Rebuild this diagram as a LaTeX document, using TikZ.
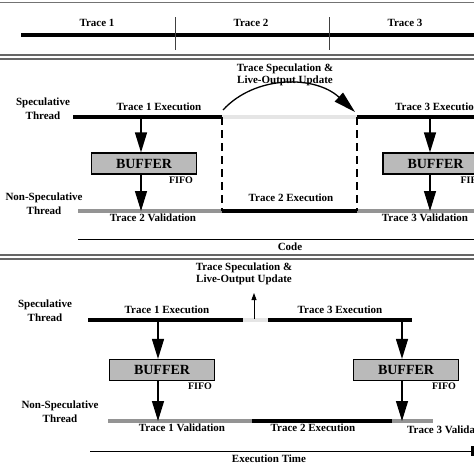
\documentclass[tikz,border=0pt]{standalone}
\usepackage{fontspec}
\setmainfont{Liberation Serif}
\usetikzlibrary{arrows.meta,positioning}

\begin{document}
\begin{tikzpicture}[x=1pt,y=-1pt,
lbl/.style={font=\bfseries\fontsize{11}{12}\selectfont,inner sep=0pt,align=center},
thr/.style={font=\bfseries\fontsize{11}{14}\selectfont,inner sep=0pt,align=center},
buffer/.style={draw,line width=1.2pt,fill=black!27,minimum width=105pt,minimum height=21pt,inner sep=0pt,font=\bfseries\fontsize{14}{14}\selectfont},
fifo/.style={font=\bfseries\fontsize{10}{10}\selectfont,inner sep=0pt},
exec/.style={line width=4pt},
valid/.style={line width=3.5pt,black!42},
idle/.style={line width=3.5pt,black!10},
flow/.style={line width=1.3pt,-{Triangle[width=12pt,length=20pt]}},
sep/.style={line width=1.4pt,black!60},
axis/.style={line width=0.8pt}
]
\useasboundingbox (0,0) rectangle (474,474);

% traces
\draw[line width=1pt,black!55] (0,2) -- (474,2);
\coordinate (t0) at (21,35);
\coordinate (t1) at (474,35);
\draw[exec] (t0) -- (t1);
\draw[line width=1pt,black!75] (175,17) -- (175,50);
\draw[line width=1pt,black!75] (329,17) -- (329,50);
\node[lbl] (tr1) at (97,23) {Trace 1};
\node[lbl] (tr2) at (251,23) {Trace 2};
\node[lbl] (tr3) at (405,23) {Trace 3};
\draw[sep] (0,55) -- (474,55);
\draw[sep] (0,59) -- (474,59);

% code view
\node[thr] (spec1) at (43,109) {Speculative\\Thread};
\node[thr] (nspec1) at (44,204) {Non-Speculative\\Thread};
\coordinate (s1) at (73,117);
\coordinate (s2) at (222,117);
\coordinate (s3) at (357,117);
\coordinate (s4) at (474,117);
\coordinate (n1) at (78,211);
\coordinate (n2) at (222,211);
\coordinate (n3) at (357,211);
\coordinate (n4) at (474,211);
\draw[exec] (s1) -- (s2);
\draw[idle] (s2) -- (s3);
\draw[exec] (s3) -- (s4);
\draw[valid] (n1) -- (n2);
\draw[exec] (n2) -- (n3);
\draw[valid] (n3) -- (n4);
\draw[line width=1.3pt,dash pattern=on 8pt off 5pt] (s2) -- (n2);
\draw[line width=1.3pt,dash pattern=on 8pt off 5pt] (s3) -- (n3);
\node[lbl] (ex1) at (159,107) {Trace 1 Execution};
\node[lbl,anchor=west] (ex3) at (395,107) {Trace 3 Execution};
\node[lbl] (ex2) at (291,198) {Trace 2 Execution};
\node[lbl] (va2) at (153,218) {Trace 2 Validation};
\node[lbl] (va3) at (425,218) {Trace 3 Validation};
\node[lbl] (upd1) at (285,75) {Trace Speculation \&\\Live-Output Update};
\coordinate (c1) at (223,110);
\coordinate (c2) at (355,112);
\draw[line width=1.3pt,-{Triangle[width=12pt,length=22pt]}] (c1) .. controls (255,75) and (315,75) .. (c2);
\node[buffer] (buf1) at (144,163.5) {BUFFER};
\node[buffer] (buf2) at (435.5,163.5) {BUFFER};
\node[fifo,below left=2pt and 4pt of buf1.south east] (ff1) {FIFO};
\node[fifo,below left=2pt and 4pt of buf2.south east] (ff2) {FIFO};
\coordinate (a1) at (141,117);
\coordinate (a2) at (430,117);
\draw[flow] (a1) -- (a1 |- buf1.north);
\draw[flow] (a1 |- buf1.south) -- (a1 |- n1);
\draw[flow] (a2) -- (a2 |- buf2.north);
\draw[flow] (a2 |- buf2.south) -- (a2 |- n1);
\draw[axis] (78,239) -- (474,239);
\node[lbl] (code) at (290,247) {Code};
\draw[sep] (0,255) -- (474,255);
\draw[sep] (0,259) -- (474,259);

% time view
\node[thr] (spec2) at (45,311) {Speculative\\Thread};
\node[thr] (nspec2) at (60,412) {Non-Speculative\\Thread};
\coordinate (p1) at (88,320);
\coordinate (p2) at (243,320);
\coordinate (p3) at (268,320);
\coordinate (p4) at (412,320);
\coordinate (q1) at (108,421);
\coordinate (q2) at (252,421);
\coordinate (q3) at (392,421);
\coordinate (q4) at (433,421);
\draw[exec] (p1) -- (p2);
\draw[idle] (p2) -- (p3);
\draw[exec] (p3) -- (p4);
\draw[valid] (q1) -- (q2);
\draw[exec] (q2) -- (q3);
\draw[valid] (q3) -- (q4);
\node[lbl] (upd2) at (244,274) {Trace Speculation \&\\Live-Output Update};
\coordinate (u1) at (254,319);
\coordinate (u2) at (254,293);
\draw[line width=0.8pt,-{Triangle[width=5pt,length=7pt]}] (u1) -- (u2);
\node[lbl] (ex4) at (167,310) {Trace 1 Execution};
\node[lbl] (ex6) at (340,310) {Trace 3 Execution};
\node[lbl] (va4) at (182,428) {Trace 1 Validation};
\node[lbl] (ex5) at (313,428) {Trace 2 Execution};
\node[lbl,anchor=west] (va6) at (407,430) {Trace 3 Validation};
\node[buffer] (buf3) at (162,370) {BUFFER};
\node[buffer] (buf4) at (406,370) {BUFFER};
\node[fifo,below left=2pt and 3pt of buf3.south east] (ff3) {FIFO};
\node[fifo,below left=2pt and 3pt of buf4.south east] (ff4) {FIFO};
\coordinate (a3) at (158,320);
\coordinate (a4) at (402,320);
\draw[flow] (a3) -- (a3 |- buf3.north);
\draw[flow] (a3 |- buf3.south) -- (a3 |- q1);
\draw[flow] (a4) -- (a4 |- buf4.north);
\draw[flow] (a4 |- buf4.south) -- (a4 |- q1);
\coordinate (e1) at (90,451);
\coordinate (e2) at (472,451);
\draw[axis] (e1) -- (e2);
\fill (471,446) rectangle (474,456);
\node[lbl] (time) at (269,459) {Execution Time};
\end{tikzpicture}
\end{document}
